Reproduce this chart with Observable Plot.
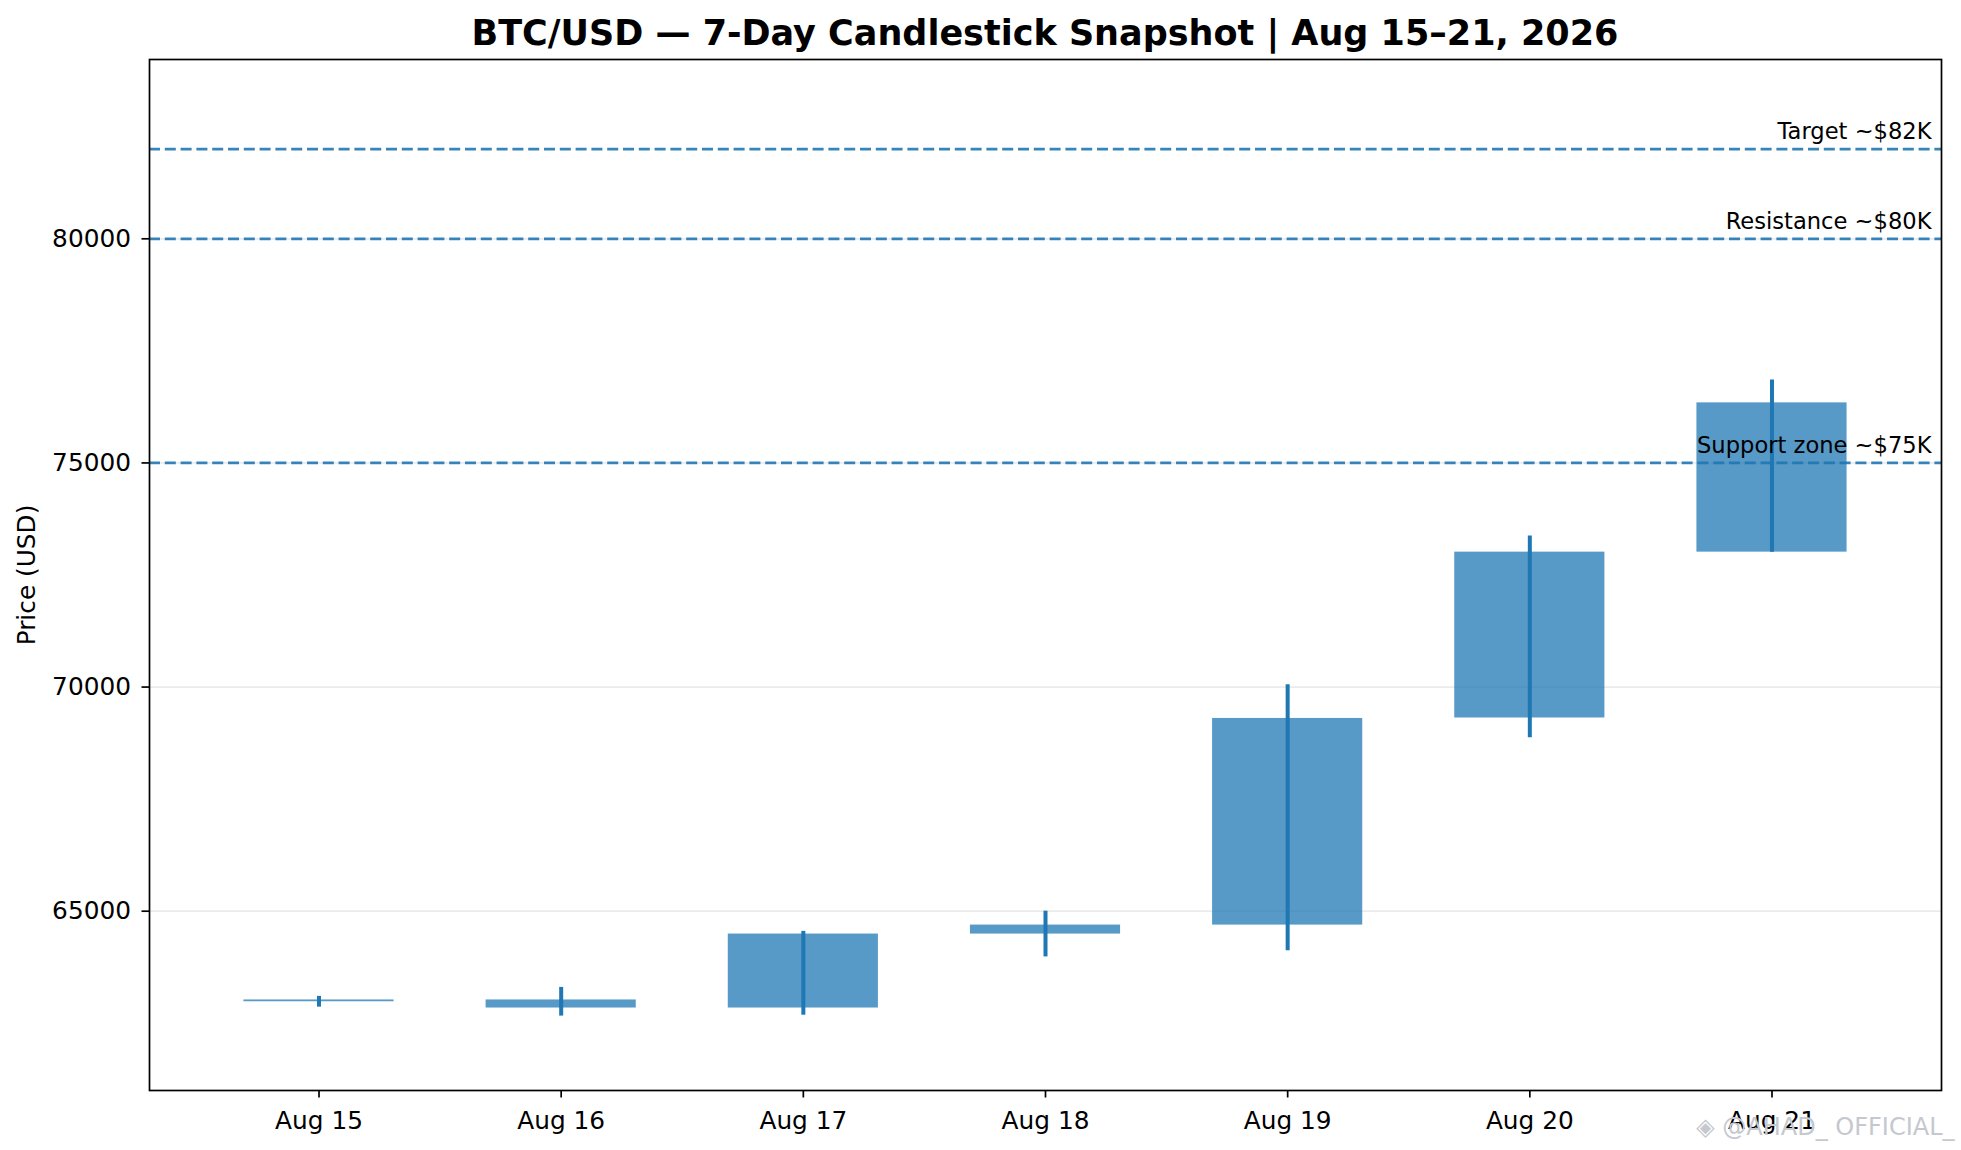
<!DOCTYPE html>
<html>
<head>
<meta charset="utf-8">
<script src="https://cdn.jsdelivr.net/npm/d3@7"></script>
<script src="https://cdn.jsdelivr.net/npm/@observablehq/plot@0.6"></script>
<style>
  html, body { margin: 0; padding: 0; background: #fff; overflow: hidden; }
  #wrap { width: 1961px; }
  #title {
    box-sizing: border-box; width: 1961px; height: 50px;
    padding: 13px 20px 0 149px; line-height: 40px;
    text-align: center; font-family: "DejaVu Sans"; font-weight: bold;
    font-size: 35px; color: #000; white-space: nowrap;
  }
  #chart svg { display: block; }
</style>
</head>
<body>
<div id="wrap">
  <div id="title">BTC/USD — 7-Day Candlestick Snapshot | Aug 15–21, 2026</div>
  <div id="chart"></div>
</div>
<script>
// ---- data ----
const dates  = ["Aug 15", "Aug 16", "Aug 17", "Aug 18", "Aug 19", "Aug 20", "Aug 21"];
const opens  = [62980, 62840, 62840, 64490, 64690, 69310, 73010];
const closes = [63020, 63020, 64490, 64690, 69300, 73010, 76340];
const highs  = [63100, 63300, 64550, 65000, 70050, 73370, 76850];
const lows   = [62860, 62660, 62680, 63980, 64120, 68870, 73010];

const levels      = [82000, 80000, 75000];
const levelLabels = ["Target ~$82K", "Resistance ~$80K", "Support zone ~$75K"];

const yTicks = [65000, 70000, 75000, 80000];
const yDomain = [61000, 84000];

// ---- tables built from the arrays ----
const candles = dates.map((d, i) => ({i, date: d, open: opens[i], close: closes[i], high: highs[i], low: lows[i]}));
const levelRows = levels.map((v, i) => ({value: v, label: levelLabels[i]}));
const halfW = 0.31;
const blue = "#1f77b4";

const chart = Plot.plot({
  width: 1961,
  height: 1100,
  marginTop: 9,
  marginBottom: 60,
  marginLeft: 149,
  marginRight: 20,
  style: {fontFamily: "DejaVu Sans", fontSize: "24px", background: "#fff", color: "#000", overflow: "visible"},
  x: {domain: [-0.7, 6.7]},
  y: {domain: yDomain},
  marks: [
    Plot.ruleY(yTicks, {stroke: "#ebebeb", strokeWidth: 1.7}),
    Plot.rect(candles, {x1: d => d.i - halfW, x2: d => d.i + halfW, y1: "open", y2: "close", fill: blue, fillOpacity: 0.75}),
    Plot.ruleX(candles, {x: "i", y1: "low", y2: "high", stroke: blue, strokeWidth: 4}),
    Plot.ruleY(levels, {stroke: blue, strokeOpacity: 0.9, strokeWidth: 2.7, strokeDasharray: "11,4.8"}),
    Plot.text(levelRows, {y: "value", text: "label", frameAnchor: "right", textAnchor: "end", lineAnchor: "bottom", dx: -10, dy: -10, fill: "#000", fontSize: 22.6}),
    Plot.frame({stroke: "#000", strokeWidth: 1.7}),
    Plot.axisX({ticks: d3.range(dates.length), tickFormat: i => dates[i], tickSize: 7.5, tickPadding: 13, strokeWidth: 1.7, label: null, fontSize: 24.8}),
    Plot.axisY({ticks: yTicks, tickFormat: d => String(d), tickSize: 7.5, tickPadding: 11, strokeWidth: 1.7, label: null, fontSize: 24.8}),
    Plot.text(["Price (USD)"], {text: d => d, frameAnchor: "left", textAnchor: "middle", lineAnchor: "middle", rotate: -90, dx: -122, fill: "#000", fontSize: 24.8}),
    Plot.text(["◈ @AHAD_ OFFICIAL_"], {text: d => d, frameAnchor: "bottom-right", textAnchor: "end", lineAnchor: "bottom", dx: 13, dy: 44, fill: "#c5c8ce", fontSize: 24})
  ]
});
document.getElementById("chart").appendChild(chart);
</script>
</body>
</html>
